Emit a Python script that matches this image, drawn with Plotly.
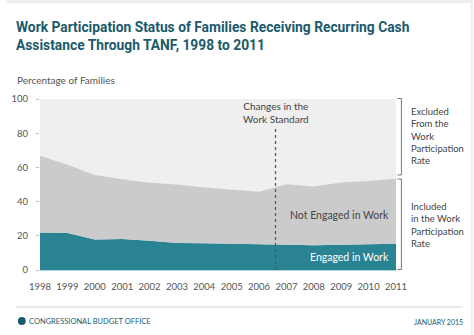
import plotly.graph_objects as go

years = list(range(1998, 2012))
engaged = [22.0, 21.6, 17.9, 18.2, 17.1, 15.8, 15.6, 15.4, 15.2, 15.0, 14.5, 14.8, 15.0, 15.3]
total_included = [66.8, 61.6, 55.5, 53.0, 51.0, 50.0, 48.3, 47.0, 45.8, 50.2, 48.8, 51.2, 52.0, 53.5]
y_ticks = [0, 20, 40, 60, 80, 100]
x_ticks = years
standard_change_year = 2006.6

W, H = 474, 335
L, R, T, B = 34, 396, 99, 270  # plot box in pixels

def px(x):
    return (x - L) / (R - L)

def py(y):
    return (B - y) / (B - T)

TEAL = "#2a8393"
GREY = "#cbcbcb"
TOPGREY = "#efefef"
TITLE = "#1b5a6c"
TFONT = "Roboto, Lato, sans-serif"
BODY = "Lato, Open Sans, sans-serif"

fig = go.Figure()
fig.add_trace(go.Scatter(x=years, y=engaged, mode="lines", line=dict(width=0, color=TEAL),
                         fill="tozeroy", fillcolor=TEAL, hoverinfo="skip", showlegend=False))
fig.add_trace(go.Scatter(x=years, y=total_included, mode="lines", line=dict(width=0, color=GREY),
                         fill="tonexty", fillcolor=GREY, hoverinfo="skip", showlegend=False))

shapes = []
shapes.append(dict(type="line", xref="x", yref="y", x0=standard_change_year, x1=standard_change_year,
                   y0=0, y1=83.5, line=dict(color="#555555", width=1.2, dash="dot")))

def bracket(y0p, y1p):
    xb = 401.5
    out = []
    out.append(dict(type="line", xref="paper", yref="paper", x0=px(xb), x1=px(xb), y0=py(y0p), y1=py(y1p),
                    line=dict(color="#777777", width=1)))
    for yy in (y0p, y1p):
        out.append(dict(type="line", xref="paper", yref="paper", x0=px(397.5), x1=px(xb), y0=py(yy), y1=py(yy),
                        line=dict(color="#777777", width=1)))
    return out
shapes += bracket(98.5, 175)
shapes += bracket(179, 269.5)
shapes.append(dict(type="line", xref="paper", yref="paper", x0=px(10), x1=px(464), y0=py(307), y1=py(307),
                   line=dict(color="#d4d4d4", width=1)))
shapes.append(dict(type="circle", xref="paper", yref="paper", x0=px(11.5), x1=px(19.5), y0=py(317), y1=py(325),
                   fillcolor=TITLE, line=dict(width=0)))
shapes.append(dict(type="rect", xref="paper", yref="paper", x0=px(0), x1=px(474), y0=py(0), y1=py(3),
                   fillcolor="#eeeeee", line=dict(width=0), layer="below"))
shapes.append(dict(type="rect", xref="paper", yref="paper", x0=px(472), x1=px(474), y0=py(0), y1=py(335),
                   fillcolor="#eeeeee", line=dict(width=0), layer="below"))

ann = []
ann.append(dict(text="Work Participation Status of Families Receiving Recurring Cash<br>Assistance Through TANF, 1998 to 2011",
                xref="paper", yref="paper", x=px(8), y=py(36), xanchor="left", yanchor="middle", align="left",
                showarrow=False, font=dict(family=TFONT, size=13.8, color=TITLE, weight="bold")))
ann.append(dict(text="Percentage of Families", xref="paper", yref="paper", x=px(9), y=py(80),
                xanchor="left", yanchor="middle", showarrow=False, font=dict(family=BODY, size=10, color="#555555")))
ann.append(dict(text="Changes in the<br>Work Standard", xref="x", yref="paper", x=standard_change_year, y=py(112),
                xanchor="center", yanchor="middle", showarrow=False,
                font=dict(family=BODY, size=10, color="#444444")))
ann.append(dict(text="Not Engaged in Work", xref="paper", yref="paper", x=px(391), y=py(215),
                xanchor="right", yanchor="middle", showarrow=False, font=dict(family=BODY, size=10.5, color="#444444")))
ann.append(dict(text="Engaged in Work", xref="paper", yref="paper", x=px(391), y=py(256.5),
                xanchor="right", yanchor="middle", showarrow=False, font=dict(family=BODY, size=10.5, color="#ffffff")))
ann.append(dict(text="Excluded<br>From the<br>Work<br>Participation<br>Rate", xref="paper", yref="paper",
                x=px(409), y=py(136), xanchor="left", yanchor="middle", align="left", showarrow=False,
                font=dict(family=BODY, size=9.5, color="#444444")))
ann.append(dict(text="Included<br>in the Work<br>Participation<br>Rate", xref="paper", yref="paper",
                x=px(409), y=py(224.5), xanchor="left", yanchor="middle", align="left", showarrow=False,
                font=dict(family=BODY, size=9.5, color="#444444")))
ann.append(dict(text="CONGRESSIONAL BUDGET OFFICE", xref="paper", yref="paper", x=px(21), y=py(321.5),
                xanchor="left", yanchor="middle", showarrow=False,
                font=dict(family=BODY, size=7.5, color=TITLE)))
ann.append(dict(text="JANUARY 2015", xref="paper", yref="paper", x=px(466), y=py(321.5),
                xanchor="right", yanchor="middle", showarrow=False,
                font=dict(family=BODY, size=7, color=TITLE)))

fig.update_layout(
    width=W, height=H,
    margin=dict(l=L, r=W - R, t=T, b=H - B, pad=0),
    paper_bgcolor="white", plot_bgcolor=TOPGREY,
    shapes=shapes, annotations=ann,
    xaxis=dict(range=[1998, 2011], tickvals=x_ticks, ticktext=[str(y) for y in x_ticks],
               showgrid=False, zeroline=False, showline=True, linecolor="#a9d6e3", linewidth=1,
               ticks="", tickfont=dict(family=BODY, size=9.5, color="#555555"), ticklabelstandoff=8),
    yaxis=dict(range=[0, 100], tickvals=y_ticks, showgrid=False, zeroline=False, showline=False,
               ticks="outside", ticklen=3, tickcolor="#bbbbbb",
               tickfont=dict(family=BODY, size=9.5, color="#555555"), ticklabelstandoff=6),
)

fig.write_html("out.html")
